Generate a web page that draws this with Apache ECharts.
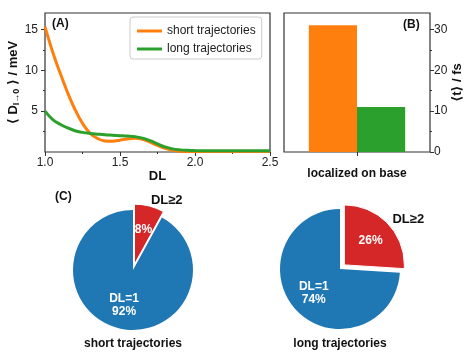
<!DOCTYPE html>
<html><head><meta charset="utf-8">
<script src="https://cdn.jsdelivr.net/npm/echarts@6/dist/echarts.min.js"></script>
<style>html,body{margin:0;padding:0;background:#fff}#c{width:474px;height:364px}</style>
</head><body><div id="c"></div>
<script>
// ---- data ----
const seriesNames = ['short trajectories', 'long trajectories'];
const dlValues = [1.0, 1.05, 1.1, 1.15, 1.2, 1.25, 1.3, 1.35, 1.4, 1.45, 1.5, 1.55, 1.6, 1.65, 1.7, 1.75, 1.8, 1.85, 1.9, 1.95, 2.0, 2.1, 2.2, 2.3, 2.4, 2.5];
const shortD = [15.3, 12.3, 9.7, 7.3, 5.2, 3.5, 2.3, 1.65, 1.35, 1.33, 1.45, 1.6, 1.68, 1.55, 1.2, 0.8, 0.45, 0.22, 0.1, 0.06, 0.05, 0.05, 0.05, 0.05, 0.05, 0.05];
const longD = [5.0, 4.0, 3.4, 2.95, 2.6, 2.4, 2.27, 2.18, 2.1, 2.05, 2.0, 1.95, 1.88, 1.7, 1.38, 1.0, 0.62, 0.38, 0.26, 0.2, 0.17, 0.15, 0.14, 0.14, 0.14, 0.14];
const barCategories = ['localized on base'];
const shortT = [31];
const longT = [11];
const pieNames = ['DL≥2', 'DL=1'];
const shortPie = [8, 92];
const longPie = [26, 74];
const pieTitles = ['short trajectories', 'long trajectories'];
const xTicksA = [1.0, 1.5, 2.0, 2.5];
const yTicksA = [5, 10, 15];
const yMinorA = [2.5, 7.5, 12.5];
const yTicksB = [0, 10, 20, 30];
const yMinorB = [5, 15, 25];

// ---- style ----
const FONT = "'Liberation Sans', Arial, sans-serif";
const SYM = "'DejaVu Sans', sans-serif";
const ORANGE = '#ff7f0e', GREEN = '#2ca02c', BLUE = '#1f77b4', RED = '#d62728';
const AX = '#333';

const chart = echarts.init(document.getElementById('c'), null, {renderer: 'canvas'});

function pieSeries(center, values) {
  const base = {
    type: 'pie', center: center, startAngle: 90, clockwise: true,
    avoidLabelOverlap: false, animation: false, selectedMode: 'multiple', selectedOffset: 6,
    emphasis: {disabled: true}, silent: true
  };
  const visible = Object.assign({}, base, {
    radius: 60,
    label: {show: false}, labelLine: {show: false},
    data: values.map((v, i) => ({
      name: pieNames[i], value: v, selected: i === 0,
      itemStyle: i === 0 ? {color: RED, borderColor: '#fff', borderWidth: 1} : {color: BLUE, borderWidth: 0}
    }))
  });
  const inner = Object.assign({}, base, {
    radius: 66,
    label: {show: true, position: 'inside', color: '#fff', fontFamily: FONT, fontWeight: 'bold', fontSize: 12, lineHeight: 13,
      formatter: p => (p.dataIndex === 0 ? '' : p.name + '\n') + p.value + '%'},
    labelLine: {show: false},
    data: values.map((v, i) => ({name: pieNames[i], value: v, selected: i === 0,
      itemStyle: {color: 'rgba(0,0,0,0)', borderWidth: 0}}))
  });
  const outer = Object.assign({}, base, {
    radius: 60,
    label: {show: true, position: 'outside', color: '#111', fontFamily: FONT, fontWeight: 'bold', fontSize: 13,
      distanceToLabelLine: 0, formatter: p => p.dataIndex === 0 ? p.name : ''},
    labelLine: {show: false, length: 6, length2: 0},
    data: values.map((v, i) => ({name: pieNames[i], value: v, selected: i === 0,
      itemStyle: {color: 'rgba(0,0,0,0)', borderWidth: 0},
      label: {show: i === 0}}))
  });
  return [visible, inner, outer];
}

const gridA = {left: 45, top: 13, width: 225, height: 139};
const gridB = {left: 284, top: 13, width: 146, height: 139};
const boldName = {fontSize: 13, fontWeight: 'bold', color: '#111', fontFamily: FONT};

const option = {
  animation: false,
  textStyle: {fontFamily: FONT},
  grid: [
    Object.assign({show: true, borderColor: AX, borderWidth: 1.2, backgroundColor: 'transparent'}, gridA),
    Object.assign({show: true, borderColor: AX, borderWidth: 1.2, backgroundColor: 'transparent'}, gridB),
    Object.assign({show: false}, gridA),
    Object.assign({show: false}, gridB)
  ],
  legend: {
    data: seriesNames, orient: 'vertical', left: 130, top: 17, padding: [8, 6, 4, 7], itemGap: 6,
    icon: 'rect', itemWidth: 25, itemHeight: 3,
    borderColor: '#ccc', borderWidth: 1, borderRadius: 3, backgroundColor: '#fff',
    textStyle: {fontFamily: FONT, fontSize: 12, color: '#222'},
    selectedMode: false
  },
  xAxis: [
    {gridIndex: 0, type: 'value', min: 1, max: 2.5, interval: 0.5,
     axisLine: {show: false}, splitLine: {show: false},
     axisTick: {show: true, length: 4, lineStyle: {color: AX}},
     minorTick: {show: true, splitNumber: 2, length: 2, lineStyle: {color: AX}},
     axisLabel: {fontSize: 12, color: '#222', margin: 5, formatter: v => v.toFixed(1), customValues: xTicksA},
     name: 'DL', nameLocation: 'middle', nameGap: 8, nameTextStyle: boldName},
    {gridIndex: 1, type: 'category', data: barCategories,
     axisLine: {show: false},
     axisTick: {show: true, alignWithLabel: true, length: 4, lineStyle: {color: AX}},
     axisLabel: {fontSize: 12, fontWeight: 'bold', color: '#111', margin: 16}},
    {gridIndex: 2, type: 'value', min: 1, max: 2.5, show: false},
    {gridIndex: 3, type: 'value', min: 1, max: 2, show: false}
  ],
  yAxis: [
    {gridIndex: 0, type: 'value', min: 0, max: 17,
     axisLine: {show: false}, splitLine: {show: false},
     axisTick: {show: true, length: 4, customValues: yTicksA, lineStyle: {color: AX}},
     axisLabel: {fontSize: 12, color: '#222', margin: 7, customValues: yTicksA},
     name: '{a|⟨}{n| }{n|D}{s|I→0}{n| }{a|⟩}{n| / meV}', nameLocation: 'middle', nameGap: 17, nameRotate: 90,
     nameTextStyle: Object.assign({}, boldName, {
       rich: {n: {fontSize: 13, fontWeight: 'bold', color: '#111', fontFamily: FONT},
              a: {fontSize: 13, color: '#111', fontFamily: SYM},
              s: {fontSize: 9, fontWeight: 'bold', color: '#111', fontFamily: FONT, verticalAlign: 'bottom', padding: [5, 0, 0, 0]}}})},
    {gridIndex: 2, type: 'value', position: 'left', min: 0, max: 17,
     axisLine: {show: false, onZero: false}, splitLine: {show: false}, axisLabel: {show: false},
     axisTick: {show: true, length: 2, customValues: yMinorA, lineStyle: {color: AX}}},
    {gridIndex: 1, type: 'value', position: 'right', min: 0, max: 34,
     axisLine: {show: false}, splitLine: {show: false},
     axisTick: {show: true, length: 4, customValues: yTicksB, lineStyle: {color: AX}},
     axisLabel: {fontSize: 12, color: '#222', margin: 4, customValues: yTicksB},
     name: '{a|⟨}{n|t}{a|⟩}{n| / fs}', nameLocation: 'middle', nameGap: 18, nameRotate: 90,
     nameTextStyle: Object.assign({}, boldName, {
       rich: {n: {fontSize: 13, fontWeight: 'bold', color: '#111', fontFamily: FONT},
              a: {fontSize: 13, color: '#111', fontFamily: SYM}}})},
    {gridIndex: 3, type: 'value', position: 'right', min: 0, max: 34,
     axisLine: {show: false, onZero: false}, splitLine: {show: false}, axisLabel: {show: false},
     axisTick: {show: true, length: 2, customValues: yMinorB, lineStyle: {color: AX}}}
  ],
  graphic: [
    {type: 'text', left: 52, top: 18, style: {text: '(A)', font: 'bold 12px ' + FONT, fill: '#111'}},
    {type: 'text', left: 403, top: 19, style: {text: '(B)', font: 'bold 12px ' + FONT, fill: '#111'}},
    {type: 'text', left: 55, top: 191, style: {text: '(C)', font: 'bold 12px ' + FONT, fill: '#111'}},
    {type: 'text', x: 133, y: 344, style: {text: pieTitles[0], font: 'bold 12px ' + FONT, fill: '#111', align: 'center', verticalAlign: 'middle'}},
    {type: 'text', x: 340, y: 344, style: {text: pieTitles[1], font: 'bold 12px ' + FONT, fill: '#111', align: 'center', verticalAlign: 'middle'}}
  ],
  series: [
    {name: seriesNames[0], type: 'line', xAxisIndex: 0, yAxisIndex: 0, smooth: 0.4, showSymbol: false, symbol: 'none',
     lineStyle: {color: ORANGE, width: 3}, itemStyle: {color: ORANGE},
     data: dlValues.map((x, i) => [x, shortD[i]])},
    {name: seriesNames[1], type: 'line', xAxisIndex: 0, yAxisIndex: 0, smooth: 0.4, showSymbol: false, symbol: 'none',
     lineStyle: {color: GREEN, width: 3}, itemStyle: {color: GREEN},
     data: dlValues.map((x, i) => [x, longD[i]])},
    {name: seriesNames[0], type: 'bar', xAxisIndex: 1, yAxisIndex: 2, barWidth: '33%', barGap: '0%',
     itemStyle: {color: ORANGE}, data: shortT},
    {name: seriesNames[1], type: 'bar', xAxisIndex: 1, yAxisIndex: 2, barWidth: '33%', barGap: '0%',
     itemStyle: {color: GREEN}, data: longT},
    ...pieSeries([133, 270], shortPie),
    ...pieSeries([340, 269], longPie)
  ]
};
chart.setOption(option);
</script>
</body></html>
